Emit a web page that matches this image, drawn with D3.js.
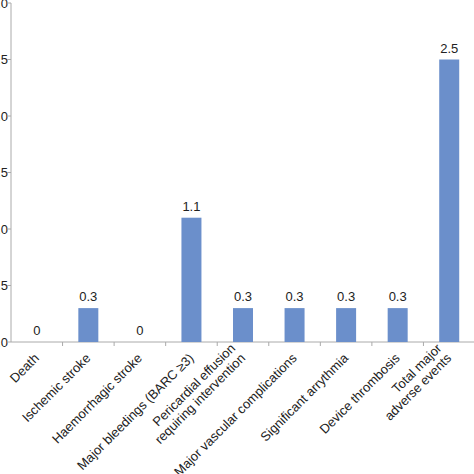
<!DOCTYPE html><html><head><meta charset="utf-8"><script src="https://cdn.jsdelivr.net/npm/d3@7"></script>
<style>body{margin:0;background:#fff}text{font-family:Arial,"Liberation Sans",sans-serif;fill:#222}</style></head><body>
<svg id="c" width="474" height="474"></svg>
<script>
const categories=["Death","Ischemic stroke","Haemorrhagic stroke","Major bleedings (BARC \u22653)","Pericardial effusion|requiring intervention","Major vascular complications","Significant arrythmia","Device thrombosis","Total major|adverse events"];
const values=[0,0.3,0,1.1,0.3,0.3,0.3,0.3,2.5];
const yTicks=[0,0.5,1,1.5,2,2.5,3];
const svg=d3.select("#c");
const x=d3.scaleBand().domain(categories).range([11,475]);
const y=d3.scaleLinear().domain([0,3]).range([342,3]);
svg.append("line").attr("x1",11).attr("x2",11).attr("y1",y(3)).attr("y2",y(0)).attr("stroke","#aaa");
svg.selectAll(".yt").data(yTicks).enter().append("text").attr("x",8).attr("y",d=>y(d)+4.5)
 .attr("text-anchor","end").attr("font-size",13).text(d=>d.toFixed(1));
svg.selectAll(".ytk").data(yTicks).enter().append("line").attr("x1",7).attr("x2",11).attr("y1",d=>y(d)).attr("y2",d=>y(d)).attr("stroke","#aaa");
svg.append("line").attr("x1",11).attr("x2",474).attr("y1",y(0)).attr("y2",y(0)).attr("stroke","#aaa");
svg.selectAll(".xtk").data(categories).enter().append("line").attr("x1",d=>x(d)+x.bandwidth()).attr("x2",d=>x(d)+x.bandwidth()).attr("y1",y(0)).attr("y2",y(0)+4).attr("stroke","#aaa");
const bw=20;
svg.selectAll(".bar").data(values).enter().append("rect")
 .attr("x",(d,i)=>x(categories[i])+x.bandwidth()/2-bw/2).attr("width",bw)
 .attr("y",d=>y(d)).attr("height",d=>y(0)-y(d)).attr("fill","#6b8fcb");
svg.selectAll(".vl").data(values).enter().append("text")
 .attr("x",(d,i)=>x(categories[i])+x.bandwidth()/2).attr("y",d=>y(d)-7)
 .attr("text-anchor","middle").attr("font-size",13).text(d=>d);
categories.forEach((c,i)=>{
 const cx=x(c)+x.bandwidth()/2, lines=c.split("|");
 const t=svg.append("text").attr("transform",`translate(${cx+3},${y(0)+17}) rotate(-45)`).attr("text-anchor","end").attr("font-size",13);
 lines.forEach((l,j)=>t.append("tspan").attr("x",0).attr("dy",j==0?(-(lines.length-1)*14+"px"):"14px").text(l));
});
</script></body></html>
